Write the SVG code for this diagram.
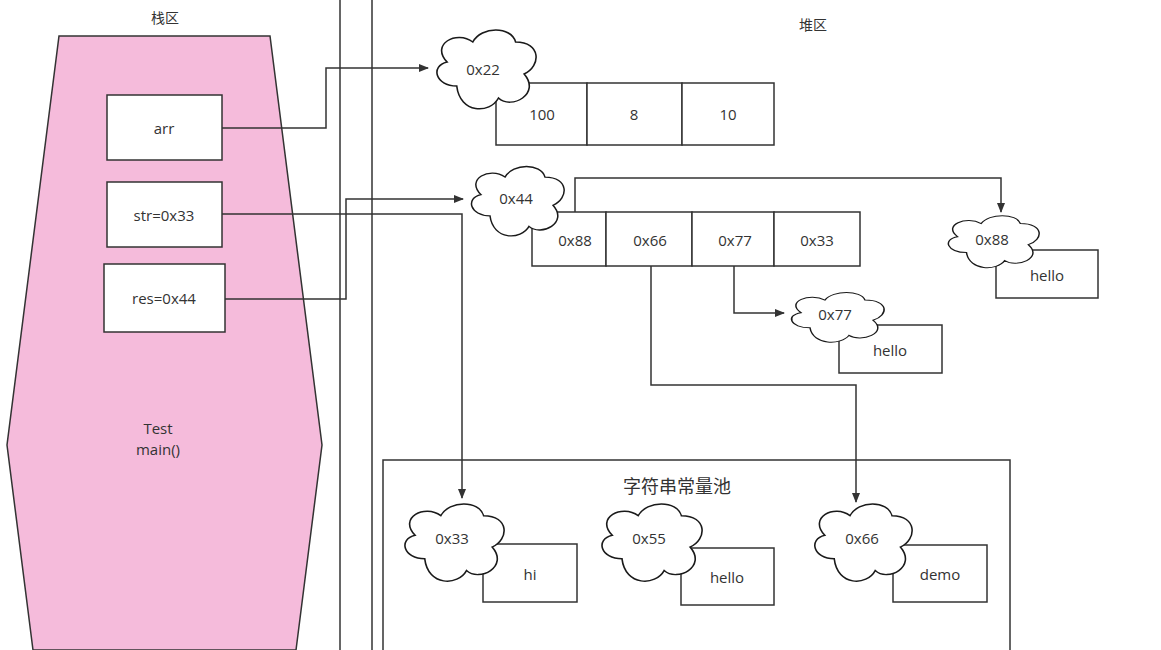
<svg xmlns="http://www.w3.org/2000/svg" width="1161" height="650" viewBox="0 0 1161 650">
<style>
text{font-family:"Open Sans","Noto Sans CJK SC",sans-serif;font-size:15px;fill:#333;text-anchor:middle;dominant-baseline:central}
.b{fill:#fff;stroke:#333;stroke-width:1.5}
.c{fill:#fff;stroke:#1a1a1a;stroke-width:1.5}
.l{fill:none;stroke:#333;stroke-width:1.5}
</style>
<defs>
<marker id="a" markerWidth="10" markerHeight="10" refX="9" refY="5" orient="auto" markerUnits="userSpaceOnUse"><path d="M0,1 L10,5 L0,9 Z" fill="#333"/></marker>
<path id="cl" d="M25,60 C5,60 0,40 16,36 C0,18 25,4 40,16 C48,0 76,0 80,16 C104,16 104,40 88,48 C104,68 76,84 64,72 C56,88 28,88 25,60 Z"/>
</defs>
<rect width="1161" height="650" fill="#fff"/>
<g id="stack">
<polygon points="59,36 270,36 322,445 296,650 33,650 7,445" fill="#f5bbdb" stroke="#333" stroke-width="1.5"/>
<text x="165" y="17" style="font-size:14px">栈区</text>
<text x="158" y="428">Test</text><text x="158" y="449">main()</text>
</g>
<g id="dividers"><line class="l" x1="340" y1="0" x2="340" y2="650"/><line class="l" x1="372" y1="0" x2="372" y2="650"/></g>
<text x="813" y="24" style="font-size:14px">堆区</text>
<g id="pool"><rect class="b" x="383" y="460" width="627" height="200"/><text x="677" y="486" style="font-size:18px">字符串常量池</text></g>
<g id="arr"><rect class="b" x="107" y="95" width="115" height="65"/><text x="164" y="128">arr</text></g>
<g id="str"><rect class="b" x="107" y="182" width="115" height="65"/><text x="164" y="215">str=0x33</text></g>
<g id="res"><rect class="b" x="104" y="264" width="121" height="68"/><text x="164" y="298">res=0x44</text></g>
<g id="connectors">
<path class="l" d="M222,128 H326 V68 H428" marker-end="url(#a)"/>
<path class="l" d="M222,214 H462 V498" marker-end="url(#a)"/>
<path class="l" d="M225,299 H346 V199 H463" marker-end="url(#a)"/>
<path class="l" d="M575,212 V178 H1001 V212" marker-end="url(#a)"/>
<path class="l" d="M734,266 V313 H784" marker-end="url(#a)"/>
<path class="l" d="M651,266 V385 H856 V502" marker-end="url(#a)"/>
</g>
<g id="array1">
<rect class="b" x="496" y="83" width="91" height="62"/><rect class="b" x="587" y="83" width="95" height="62"/><rect class="b" x="682" y="83" width="92" height="62"/>
<text x="542" y="114">100</text><text x="634" y="114">8</text><text x="728" y="114">10</text>
</g>
<g id="array2">
<rect class="b" x="532" y="212" width="74" height="54"/><rect class="b" x="606" y="212" width="86" height="54"/><rect class="b" x="692" y="212" width="82" height="54"/><rect class="b" x="774" y="212" width="86" height="54"/>
<text x="575" y="240">0x88</text><text x="650" y="240">0x66</text><text x="735" y="240">0x77</text><text x="817" y="240">0x33</text>
</g>
<g id="hello88"><rect class="b" x="996" y="250" width="102" height="48"/><text x="1047" y="275">hello</text></g>
<g id="hello77"><rect class="b" x="839" y="325" width="103" height="48"/><text x="890" y="350">hello</text></g>
<g id="hi"><rect class="b" x="483" y="544" width="94" height="58"/><text x="530" y="574">hi</text></g>
<g id="hello55"><rect class="b" x="681" y="548" width="93" height="57"/><text x="727" y="577">hello</text></g>
<g id="demo"><rect class="b" x="893" y="545" width="94" height="57"/><text x="940" y="574">demo</text></g>
<g id="c22"><use href="#cl" class="c" transform="translate(430,26) scale(1.07,1.0)" style="vector-effect:non-scaling-stroke"/><text x="483" y="69">0x22</text></g>
<g id="c44"><use href="#cl" class="c" transform="translate(465,163) scale(1.0,0.88)"/><text x="516" y="198">0x44</text></g>
<g id="c88"><use href="#cl" class="c" transform="translate(942,213) scale(0.98,0.66)"/><text x="992" y="239">0x88</text></g>
<g id="c77"><use href="#cl" class="c" transform="translate(785,290) scale(1.0,0.63)"/><text x="835" y="314">0x77</text></g>
<g id="c33"><use href="#cl" class="c" transform="translate(398,500) scale(1.07,0.98)"/><text x="452" y="538">0x33</text></g>
<g id="c55"><use href="#cl" class="c" transform="translate(595,500) scale(1.08,0.98)"/><text x="649" y="538">0x55</text></g>
<g id="c66"><use href="#cl" class="c" transform="translate(808,500) scale(1.05,0.98)"/><text x="862" y="538">0x66</text></g>
</svg>
